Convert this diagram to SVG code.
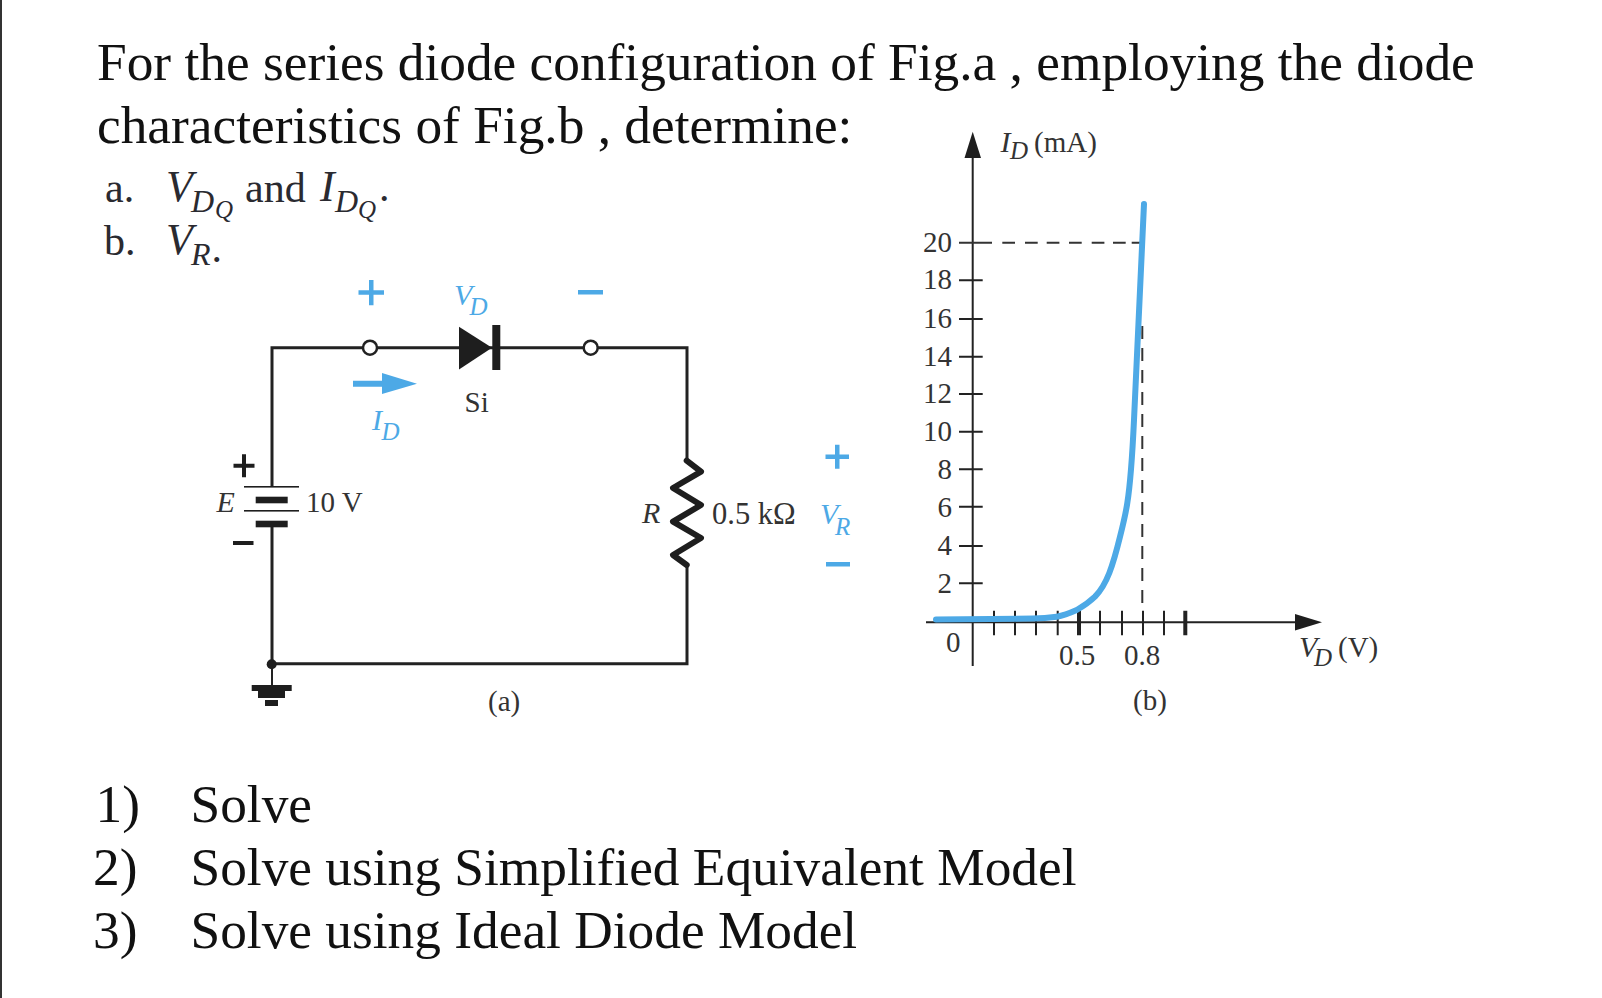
<svg xmlns="http://www.w3.org/2000/svg" width="1602" height="998" viewBox="0 0 1602 998">
<style>
text{font-family:"Liberation Serif","Times New Roman",serif;fill:#222}
.big{font-size:53.35px;fill:#111}
.q{font-size:42px;fill:#2a2a30}
.qs{font-size:32px;font-style:italic;fill:#2a2a30}
.qq{font-size:25px;font-style:italic;fill:#2a2a30}
.qi{font-size:44px;font-style:italic;fill:#2a2a30}
.f{font-size:29px;fill:#333}
.fi{font-size:30px;font-style:italic;fill:#333}
.fs{font-size:25px;font-style:italic;fill:#333}
.bl{fill:#4da9e6}
.bi{font-size:30px;font-style:italic;fill:#4da9e6}
.bs{font-size:25px;font-style:italic;fill:#4da9e6}
.wire{fill:none;stroke:#222;stroke-width:3}
.tick{fill:none;stroke:#222;stroke-width:2}
.tickb{fill:none;stroke:#222;stroke-width:4}
.term{fill:#fff;stroke:#222;stroke-width:2.5}
.dash{fill:none;stroke:#333;stroke-width:2}
.ink{fill:#1e1e1e}
</style>
<rect id="bg" width="1602" height="998" fill="#fff"/>
<rect id="page-edge" x="0" y="0" width="2" height="998" fill="#333"/>
<g id="question">
<text class="big" x="97" y="80">For the series diode configuration of Fig.a , employing the diode</text>
<text class="big" x="97" y="143">characteristics of Fig.b , determine:</text>
<text class="q" x="105" y="202">a.</text>
<text class="qi" x="166" y="201">V</text><text class="qs" x="191" y="212">D</text><text class="qq" x="215" y="218">Q</text>
<text class="q" x="245" y="201.500">and</text>
<text class="qi" x="320" y="201">I</text><text class="qs" x="335" y="212">D</text><text class="qq" x="358" y="218">Q</text><text class="q" x="379" y="201">.</text>
<text class="q" x="104" y="254.500">b.</text>
<text class="qi" x="166" y="254">V</text><text class="qs" x="191" y="265">R</text><text class="q" x="211.500" y="262">.</text>
</g>
<g id="connectors">
<path class="wire" d="M272 487V347.700H687V461M687 565V663.700H272M272 527V664"/>
<path class="tick" d="M272 664V686"/>
</g>
<g id="terminal-1"><circle class="term" cx="370" cy="347.700" r="7"/></g>
<g id="terminal-2"><circle class="term" cx="590.700" cy="347.700" r="7"/></g>
<g id="diode">
<path class="ink" d="M459 326.700L492 347.700L459 369.500Z"/><rect class="ink" x="492.300" y="325" width="8" height="45"/>
<text class="f" x="464.500" y="411.500">Si</text>
<text class="bi" x="454" y="304.500">V</text><text class="bs" x="469.500" y="314.500">D</text>
<path class="bl" d="M578 290h25v4.500h-25zM369 280h4.500v10.300h10.500v4.500h-10.500v10.500h-4.500v-10.500h-10.500v-4.500h10.500z"/>
</g>
<g id="current-arrow">
<path class="bl" d="M353 380.700H382V373L417 383.700L382 394V386.700H353Z"/>
<text class="bi" x="372" y="430">I</text><text class="bs" x="381.500" y="439.500">D</text>
</g>
<g id="battery">
<rect class="ink" x="244" y="486" width="55" height="1.600"/><rect class="ink" x="244" y="510" width="55" height="1.600"/>
<rect class="ink" x="255.700" y="496.700" width="32" height="6.600"/><rect class="ink" x="255.700" y="520.700" width="32" height="6.600"/>
<path class="ink" d="M233.500 463.700h8.500v-9.500h4v9.500h8.500v4h-8.500v9.500h-4v-9.500h-8.500zM233 541h20.500v4h-20.500z"/>
<text class="fi" x="216.500" y="512">E</text>
<text class="f" x="306" y="511.500">10 V</text>
</g>
<g id="ground">
<circle class="ink" cx="271.700" cy="664.300" r="5"/>
<rect class="ink" x="251.700" y="685" width="40" height="6"/><rect class="ink" x="258" y="691" width="27" height="7"/><rect class="ink" x="265" y="700" width="13" height="6"/>
</g>
<g id="resistor">
<path d="M686.700 460.700L701 471.700L673 488L701 505L673 521.700L701 538L673 555L686.700 565" fill="none" stroke="#1e1e1e" stroke-width="6" stroke-linecap="round" stroke-linejoin="round"/>
<text class="fi" x="642" y="523">R</text>
<text class="f" x="712" y="524" style="font-size:30.500px">0.5 kΩ</text>
<text class="bi" x="820" y="524">V</text><text class="bs" x="835" y="534.500">R</text>
<path class="bl" d="M826 562h24v4.500h-24zM835 444.700h4.500v9.800h9.500v4.500h-9.500v9.800h-4.500v-9.800h-9.500v-4.500h9.500z"/>
</g>
<g id="graph">
<path class="tick" d="M972.700 150V666M926 622.300H1300"/>
<path class="ink" d="M972.700 131.700L981 158H964.500Z"/><path class="ink" d="M1322 622.300L1295 614V630.500Z"/>
<path class="tick" d="M959 280.300h23.700M959 319h23.700M959 356.700h23.700M959 394h23.700M959 431.700h23.700M959 469.300h23.700M959 506.700h23.700M959 546h23.700M959 583.300h23.700"/>
<path class="tick" d="M994 610.700v24.600M1015 610.700v24.600M1036 610.700v24.600M1057.700 610.700v24.600M1100 610.700v24.600M1122 610.700v24.600M1143 610.700v24.600M1164 610.700v24.600"/>
<path class="tickb" d="M1079 610.700v24.600M1185.300 610.700v24.600"/>
<path class="dash" d="M959 242.700h33M1002.300 242.700h12.700M1025 242.700h12.700M1046.700 242.700h12.700M1069 242.700h12.700M1091.700 242.700h12.700M1113 242.700h12.700M1131.700 242.700H1141"/>
<path class="dash" d="M1142.300 326V605" style="stroke-dasharray:13 9"/>
<path d="M936 619.500L1033 618.500C1040 618.500 1048 618 1056.700 616.700C1064 615.500 1070 613 1076.700 610C1083 606.500 1089 602.500 1095 596.700C1100.500 591 1105 584 1109.300 573C1113.500 562 1117 549 1120 536.700C1122.500 527 1125.300 516 1127.300 503C1130 486 1132.600 450 1134 420L1144 204" fill="none" stroke="#4da9e6" stroke-width="6" stroke-linecap="round" stroke-linejoin="round"/>
<g text-anchor="end">
<text class="f" x="952" y="252">20</text><text class="f" x="952" y="289">18</text><text class="f" x="952" y="328">16</text><text class="f" x="952" y="366">14</text><text class="f" x="952" y="403">12</text><text class="f" x="952" y="441">10</text><text class="f" x="952" y="479">8</text><text class="f" x="952" y="517">6</text><text class="f" x="952" y="555">4</text><text class="f" x="952" y="593">2</text>
</g>
<text class="f" x="946" y="652">0</text>
<text class="f" x="1059" y="665">0.5</text><text class="f" x="1124" y="665">0.8</text>
<text class="fi" x="1000.500" y="152">I</text><text class="fs" x="1010" y="159">D</text><text class="f" x="1034" y="152">(mA)</text>
<text class="fi" x="1299" y="657">V</text><text class="fs" x="1314" y="666">D</text><text class="f" x="1338" y="657">(V)</text>
</g>
<g id="captions">
<text class="f" x="488" y="711">(a)</text>
<text class="f" x="1133" y="710">(b)</text>
</g>
<g id="tasks">
<text class="big" x="95.500" y="822.300">1)</text><text class="big" x="190.500" y="822.300">Solve</text>
<text class="big" x="93" y="885.300">2)</text><text class="big" x="190.500" y="885.300">Solve using Simplified Equivalent Model</text>
<text class="big" x="93" y="948.300">3)</text><text class="big" x="190.500" y="948.300">Solve using Ideal Diode Model</text>
</g>
</svg>
